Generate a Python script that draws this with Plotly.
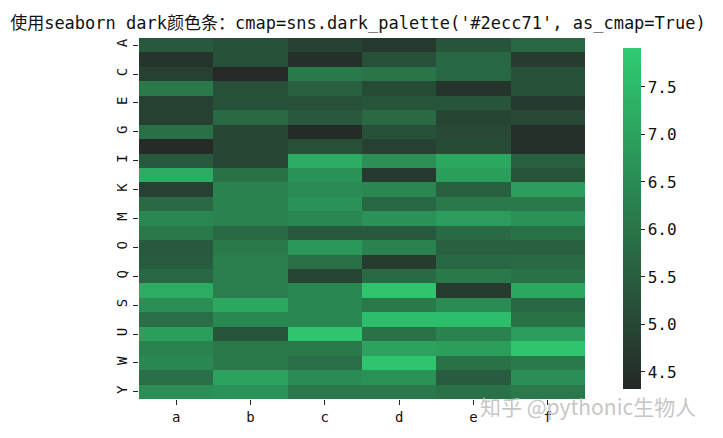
import plotly.graph_objects as go

rows = list("ABCDEFGHIJKLMNOPQRSTUVWXY")
cols = ["a", "b", "c", "d", "e", "f"]

col_a = [5.4, 4.6, 4.85, 6.1, 4.85, 4.85, 5.9, 4.4, 5.4, 7.2, 4.85, 5.75, 6.4,
         6.1, 5.4, 5.45, 5.7, 7.2, 6.55, 5.85, 6.9, 6.3, 6.4, 5.85, 6.55]
col_b = [5.2, 5.2, 4.35, 5.2, 5.2, 5.75, 5.0, 5.0, 5.0, 5.95, 6.3, 6.3, 6.3,
         5.75, 6.1, 6.2, 6.2, 6.2, 7.1, 6.4, 5.3, 6.1, 6.1, 7.0, 6.65]
col_c = [4.9, 4.5, 6.1, 5.55, 5.2, 5.4, 4.4, 5.2, 7.2, 6.65, 6.5, 6.65, 6.4,
         5.4, 6.75, 5.85, 4.95, 6.4, 6.4, 6.4, 7.75, 6.1, 5.85, 6.5, 6.1]
col_d = [4.7, 5.2, 6.0, 5.1, 5.3, 5.75, 5.2, 4.85, 6.6, 4.7, 6.4, 5.7, 6.65,
         5.4, 6.3, 4.75, 5.75, 7.75, 6.1, 7.6, 5.95, 7.0, 7.75, 6.65, 6.1]
col_e = [5.3, 5.7, 5.7, 4.6, 5.3, 4.95, 5.05, 5.1, 7.1, 6.9, 5.55, 6.1, 6.85,
         5.75, 5.55, 5.7, 6.1, 4.75, 6.5, 7.6, 6.3, 6.9, 5.95, 5.45, 5.95]
col_f = [5.7, 4.75, 5.2, 5.2, 4.7, 5.05, 4.5, 4.5, 5.55, 5.3, 6.85, 6.1, 6.65,
         5.95, 5.55, 5.75, 5.95, 7.1, 5.7, 5.95, 6.85, 7.75, 6.1, 6.55, 6.1]

cbar_ticks = [4.5, 5.0, 5.5, 6.0, 6.5, 7.0, 7.5]

columns = [col_a, col_b, col_c, col_d, col_e, col_f]
z = [[c[i] for c in columns] for i in range(len(rows))]

mono = "DejaVu Sans Mono, Noto Sans CJK SC"

fig = go.Figure(go.Heatmap(
    z=z, x=cols, y=rows,
    zmin=4.32, zmax=7.91,
    colorscale=[[0, "#252826"], [1, "#2ecc71"]],
    colorbar=dict(
        x=1.063, xanchor="left", y=0.5, yanchor="middle",
        len=1.0, lenmode="fraction", thickness=18,
        outlinewidth=0, tickvals=cbar_ticks, tickformat=".1f",
        ticks="outside", ticklen=4, tickcolor="#222",
        tickfont=dict(family=mono, size=16, color="#111"),
    ),
))

fig.update_xaxes(
    showgrid=False, zeroline=False, ticks="outside", ticklen=5, tickcolor="#222",
    tickfont=dict(family=mono, size=14, color="#111"),
)
fig.update_yaxes(
    showgrid=False, zeroline=False, autorange="reversed",
    tickvals=rows[::2], ticks="outside", ticklen=5, tickcolor="#222",
    tickangle=-90, tickfont=dict(family=mono, size=14, color="#111"),
)

# page body adds an 8px offset, so the figure is 8px smaller and margins shifted
fig.update_layout(
    width=715, height=430,
    margin=dict(l=131, r=138, t=30, b=39),
    plot_bgcolor="white", paper_bgcolor="white",
    title=dict(
        text="使用seaborn dark颜色条：cmap=sns.dark_palette('#2ecc71', as_cmap=True)",
        x=0.003, xanchor="left", y=0.965, yanchor="middle",
        font=dict(family=mono, size=17, color="#111"),
    ),
    annotations=[dict(
        text="知乎 @pythonic生物人", xref="paper", yref="paper",
        x=0.76, y=-0.02, xanchor="left", yanchor="middle", showarrow=False,
        font=dict(family="Noto Sans CJK SC", size=21, color="rgba(190,190,190,0.9)"),
    )],
)

fig.write_html("out.html")
